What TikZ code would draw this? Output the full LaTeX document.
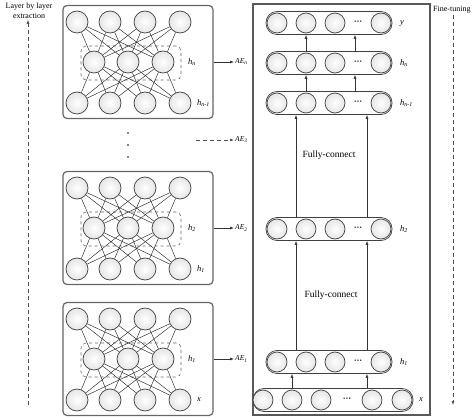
\documentclass[tikz,border=0pt]{standalone}
\usepackage{fontspec}
\setmainfont{Liberation Serif}
\usetikzlibrary{arrows.meta}

\newcommand{\hsub}[1]{\textit{h}\textsubscript{\textit{#1}}}
\newcommand{\aesub}[1]{\textit{AE}\textsubscript{\textit{#1}}}

\tikzset{
  unit/.style={circle, minimum size=22, inner sep=0, draw=black!75, line width=0.7pt,
    inner color=white, outer color=gray!20},
  panel/.style={rectangle, rounded corners=4, draw=black!60, line width=1.2pt,
    minimum width=150, minimum height=113},
  hidbox/.style={rectangle, rounded corners=5, draw=black!60, dashed, line width=0.6pt,
    minimum width=100, minimum height=34},
  caps/.style={rectangle, rounded corners=11, draw=black!75, line width=0.7pt,
    minimum height=23, fill=white},
  link/.style={black!85, line width=0.45pt},
  arr/.style={black!80, line width=0.6pt, -{Latex[length=4pt,width=3pt]}},
  dasharr/.style={black!70, line width=0.6pt, dash pattern=on 4pt off 3pt, -{Latex[length=4pt,width=3pt]}},
  lab/.style={inner sep=1, font=\fontsize{8.5}{10}\selectfont},
  dot/.style={circle, fill=black, inner sep=0, minimum size=1.8}
}

\begin{document}
\begin{tikzpicture}[x=1pt, y=-1pt]
  \useasboundingbox (0,0) rectangle (474,417);

  % stacked autoencoders, one panel each
  \foreach \k/\yc/\hm/\hb/\ae in {n/62/{\hsub{n}}/{\hsub{n-1}}/{\aesub{n}},
      2/228/{\hsub{2}}/{\hsub{1}}/{\aesub{2}},
      1/359/{\hsub{1}}/{\textit{x}}/{\aesub{1}}}{
    \node[panel] (box\k) at (138,\yc) {};
    \node[hidbox] (hb\k) at (131,\yc+1) {};
    \foreach \i/\x in {1/77,2/110,3/145,4/180}{
      \node[unit] (t\k-\i) at (\x,\yc-40) {};
      \node[unit] (b\k-\i) at (\x,\yc+41) {};
    }
    \foreach \j/\x in {1/94,2/128,3/163}
      \node[unit] (m\k-\j) at (\x,\yc) {};
    \foreach \i in {1,...,4}
      \foreach \j in {1,2,3}{
        \draw[link] (t\k-\i) -- (m\k-\j);
        \draw[link] (m\k-\j) -- (b\k-\i);
      }
    \node[lab, anchor=west] (lm\k) at (187,\yc) {\hm};
    \node[lab, anchor=west] (lb\k) at (196,\yc+41) {\hb};
    \node[lab, anchor=west, font=\fontsize{7.5}{9}\selectfont] (ae\k) at (234,\yc) {\ae};
    \draw[arr] (box\k) -- (ae\k);
  }

  % the panels left out
  \node[dot] (d1) at (128,133) {};
  \node[dot] (d2) at (128,145) {};
  \node[dot] (d3) at (128,157) {};
  \coordinate (ae3s) at (196,140);
  \node[lab, anchor=west, font=\fontsize{7.5}{9}\selectfont] (ae3) at (234,140) {\aesub{3}};
  \draw[dasharr] (ae3s) -- (ae3);

  % left: layer by layer
  \node[lab, align=center, font=\fontsize{8}{9.5}\selectfont] (lyr) at (29,11) {Layer by layer\\extraction};
  \coordinate (lyrb) at (28,405);
  \draw[dasharr] (lyrb) -- (lyr.south -| lyrb);

  % fine-tuning network
  \node[rectangle, draw=black!65, line width=1.2pt, minimum width=177, minimum height=411] (ftbox) at (341.5,209.5) {};
  \foreach \r/\yc/\txt in {y/23/{\textit{y}}, hn/63/{\hsub{n}}, hn1/103/{\hsub{n-1}},
      h2/229/{\hsub{2}}, h1/362/{\hsub{1}}}{
    \node[caps, minimum width=126] (r\r) at (329,\yc) {};
    \foreach \i/\x in {1/277,2/306,3/335,4/381}
      \node[unit, minimum size=20] (r\r-\i) at (\x,\yc) {};
    \node[lab] (r\r-d) at (358,\yc) {\textbf{···}};
    \node[lab, anchor=west] (l\r) at (399,\yc) {\txt};
  }
  \node[caps, minimum width=160] (rx) at (333,400) {};
  \foreach \i/\x in {1/263,2/292,3/321,4/372,5/402}
    \node[unit, minimum size=20] (rx-\i) at (\x,400) {};
  \node[lab] (rx-d) at (347,400) {\textbf{···}};
  \node[lab, anchor=west] (lx) at (418,400) {\textit{x}};

  \draw[arr] ([xshift=-23]rhn.north) -- ([xshift=-23]ry.south);
  \draw[arr] ([xshift=26]rhn.north) -- ([xshift=26]ry.south);
  \draw[arr] ([xshift=-23]rhn1.north) -- ([xshift=-23]rhn.south);
  \draw[arr] ([xshift=26]rhn1.north) -- ([xshift=26]rhn.south);
  \draw[arr] ([xshift=-33]rh2.north) -- ([xshift=-33]rhn1.south);
  \draw[arr] ([xshift=38]rh2.north) -- ([xshift=38]rhn1.south);
  \draw[arr] ([xshift=-33]rh1.north) -- ([xshift=-33]rh2.south);
  \draw[arr] ([xshift=38]rh1.north) -- ([xshift=38]rh2.south);
  \draw[arr] ([xshift=-37]rh1.south |- rx.north) -- ([xshift=-37]rh1.south);
  \draw[arr] ([xshift=38]rh1.south |- rx.north) -- ([xshift=38]rh1.south);

  \node[font=\fontsize{9.5}{11}\selectfont] (fc1) at (329,155) {Fully-connect};
  \node[font=\fontsize{9.5}{11}\selectfont] (fc2) at (331,295) {Fully-connect};

  % right: fine-tuning
  \node[lab, anchor=west, font=\fontsize{8}{9.5}\selectfont] (ftl) at (432,10) {Fine-tuning};
  \coordinate (ftb) at (453,405);
  \draw[dasharr] (ftl.south -| ftb) -- (ftb);
\end{tikzpicture}
\end{document}
